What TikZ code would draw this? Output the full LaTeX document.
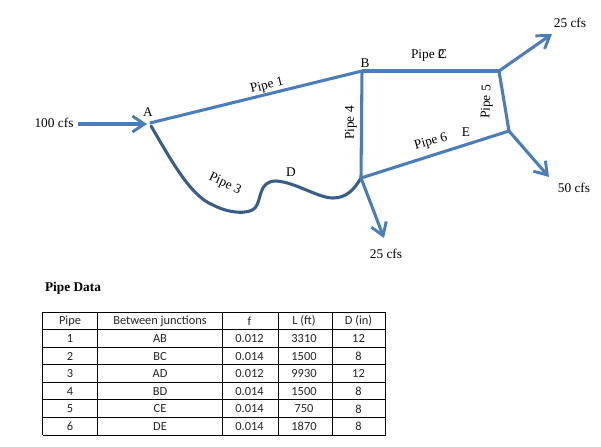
\documentclass[tikz,border=0pt]{standalone}
\usepackage{fontspec}
\setmainfont{Liberation Serif}
\newfontfamily\tablefont{Carlito}
\usetikzlibrary{arrows.meta}
\definecolor{pipeblue}{HTML}{4A7EBB}
\definecolor{pipedark}{HTML}{385D8A}
\tikzset{
  pipe/.style={draw=pipeblue,line width=2.3pt},
  pipecurve/.style={draw=pipedark,line width=2.3pt,line cap=round},
  flow/.style={pipe,-{Straight Barb[length=9pt,width=12pt,line width=2.2pt]}},
  lab/.style={font=\fontsize{10}{11}\selectfont,inner sep=0pt,text=black},
  cell/.style={font=\tablefont\fontsize{9.3}{10}\selectfont,inner sep=0pt,text=black!85},
  grid/.style={draw=black,line width=0.75pt}
}
\begin{document}
\begin{tikzpicture}[x=0.75pt,y=-0.75pt]
\useasboundingbox (0,0) rectangle (601,447);
\fill[white] (0,0) rectangle (601,447);
% junctions
\coordinate (A) at (150,123);
\coordinate (B) at (362,71);
\coordinate (C) at (499,71);
\coordinate (D) at (361,178);
\coordinate (E) at (509,131);
\coordinate (inflow) at (78,124);
\coordinate (outC) at (552,34);
\coordinate (outD) at (384,238);
\coordinate (outE) at (549,177);
% pipes
\draw[pipecurve] (151,126) .. controls (170,158) and (190,196) .. (213,205)
  .. controls (228,213) and (248,215) .. (255,208)
  .. controls (262,200) and (258,181) .. (276,181)
  .. controls (295,182) and (318,198) .. (333,198)
  .. controls (346,198) and (354,190) .. (D);
\draw[pipe] (A) -- (B);
\draw[pipe] (B) -- (C);
\draw[pipe] (B) -- (D);
\draw[pipe] (C) -- (E);
\draw[pipe] (D) -- (E);
\draw[flow] (inflow) -- (147,124);
\draw[flow] (C) -- (outC);
\draw[flow] (D) -- (outD);
\draw[flow] (E) -- (outE);
% labels
\node[lab] (la) at (148,112) {A};
\node[lab] (lb) at (365,63) {B};
\node[lab] (ld) at (291,172) {D};
\node[lab] (le) at (466,132) {E};
\node[lab] (q0) at (54,123) {100 cfs};
\node[lab] (q1) at (570,23) {25 cfs};
\node[lab] (q2) at (386,254) {25 cfs};
\node[lab] (q3) at (574,188) {50 cfs};
\node[lab,rotate=14] (p1) at (267,86) {Pipe 1};
\node[lab] (p2) at (429,56) {Pipe \rlap{2}C};
\node[lab,rotate=-25] (p3) at (225,184) {Pipe 3};
\node[lab,rotate=90] (p4) at (351,123) {Pipe 4};
\node[lab,rotate=88] (p5) at (487,102) {Pipe 5};
\node[lab,rotate=16] (p6) at (431,142) {Pipe 6};
\node[lab,font=\bfseries\fontsize{10}{11}\selectfont] (title) at (73,288) {Pipe Data};
% table
\foreach \yy in {312,329.6,347.1,364.7,382.3,399.9,417.4,435}
  \draw[grid] (42.5,\yy) -- (385.5,\yy);
\foreach \xx in {42.5,97.5,222,278,332,385.5}
  \draw[grid] (\xx,312) -- (\xx,435);
\foreach \r/\a/\b/\c/\d/\e [count=\i from 0] in {
  Pipe/Between junctions/f/L (ft)/D (in),
  1/AB/0.012/3310/12,
  2/BC/0.014/1500/8,
  3/AD/0.012/9930/12,
  4/BD/0.014/1500/8,
  5/CE/0.014/750/8,
  6/DE/0.014/1870/8}{
  \pgfmathsetmacro{\yc}{321+17.57*\i}
  \node[cell] (ca\i) at (70,\yc) {\r};
  \node[cell] (cb\i) at (160,\yc) {\a};
  \node[cell] (cc\i) at (249.5,\yc) {\b};
  \node[cell] (cd\i) at (304,\yc) {\c};
  \node[cell] (ce\i) at (358.5,\yc) {\d};
}
\end{tikzpicture}
\end{document}
